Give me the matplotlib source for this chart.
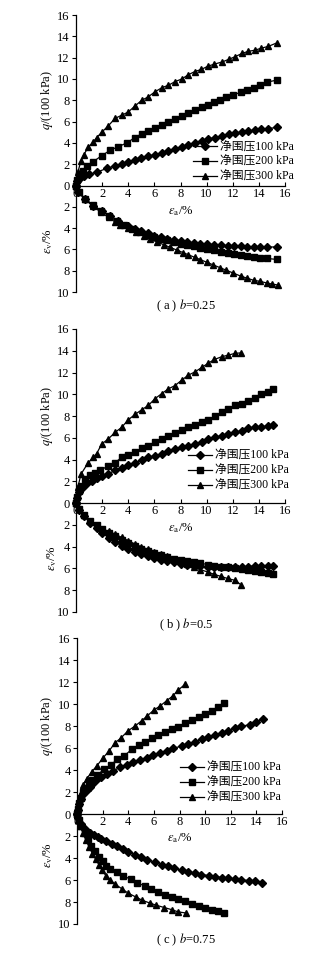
import matplotlib
matplotlib.use('Agg')
import matplotlib.pyplot as plt
from matplotlib.ticker import FuncFormatter

plt.rcParams['font.family'] = ['Liberation Serif', 'Noto Sans CJK SC']
plt.rcParams['mathtext.fontset'] = 'stix'
plt.rcParams['font.size'] = 9

labels = ['净围压100 kPa', '净围压200 kPa', '净围压300 kPa']
captions = [r'( a ) $b$=0.25', r'( b ) $b$=0.5', r'( c ) $b$=0.75']

# ---- (a) b=0.25 : axial strain / deviator stress q (100 kPa) ----
q100_a_x = [0, 0.1, 0.3, 0.6, 1.0, 1.58, 2.35, 3.0, 3.5, 4.0, 4.5, 5.0, 5.5, 6.05, 6.56, 7.07, 7.58, 8.09,
            8.6, 9.11, 9.63, 10.1, 10.65, 11.2, 11.7, 12.2, 12.7, 13.2, 13.7, 14.2, 14.7, 15.4]
q100_a_y = [0, 0.4, 0.7, 0.9, 1.05, 1.25, 1.6, 1.85, 2.0, 2.2, 2.4, 2.55, 2.73, 2.9, 3.05, 3.22, 3.4, 3.6,
            3.8, 3.95, 4.15, 4.35, 4.5, 4.65, 4.8, 4.9, 5.0, 5.1, 5.2, 5.27, 5.35, 5.45]
q200_a_x = [0, 0.08, 0.25, 0.5, 0.85, 1.33, 1.97, 2.6, 3.24, 3.9, 4.5, 5.03, 5.54, 6.05, 6.56, 7.07, 7.58,
            8.09, 8.6, 9.11, 9.63, 10.1, 10.6, 11.0, 11.5, 12.0, 12.6, 13.1, 13.6, 14.1, 14.6, 15.4]
q200_a_y = [0, 0.5, 1.0, 1.4, 1.8, 2.25, 2.8, 3.3, 3.65, 4.0, 4.5, 4.85, 5.1, 5.4, 5.66, 5.97, 6.23,
            6.51, 6.76, 7.07, 7.33, 7.55, 7.8, 8.0, 8.27, 8.5, 8.74, 8.96, 9.2, 9.43, 9.7, 9.9]
q300_a_x = [0, 0.05, 0.15, 0.38, 0.6, 0.94, 1.33, 1.58, 1.97, 2.47, 2.99, 3.5, 4.0, 4.5, 5.03, 5.5, 6.05,
            6.6, 7.06, 7.58, 8.1, 8.6, 9.1, 9.6, 10.1, 10.6, 11.2, 11.7, 12.2, 12.7, 13.2, 13.7, 14.2, 14.7, 15.4]
q300_a_y = [0, 0.6, 1.3, 2.3, 2.9, 3.6, 4.1, 4.5, 5.0, 5.6, 6.3, 6.6, 6.9, 7.45, 8.0, 8.3, 8.8,
            9.2, 9.4, 9.75, 10.0, 10.4, 10.7, 10.9, 11.2, 11.4, 11.6, 11.85, 12.1, 12.4, 12.6, 12.7, 12.9, 13.05, 13.4]
# volumetric strain (%)
ev100_a_x = [0, 0.18, 0.69, 1.33, 1.97, 2.6, 3.24, 4.0, 4.5, 5.0, 5.5, 6.0, 6.5, 7.0, 7.5, 8.0, 8.5, 9.0,
             9.5, 10.0, 10.6, 11.1, 11.6, 12.1, 12.6, 13.1, 13.6, 14.1, 14.6, 15.4]
ev100_a_y = [0, 0.63, 1.25, 1.89, 2.36, 2.83, 3.3, 3.77, 4.05, 4.3, 4.5, 4.7, 4.85, 5.0, 5.1, 5.2, 5.3, 5.4,
             5.45, 5.5, 5.55, 5.6, 5.65, 5.7, 5.72, 5.75, 5.75, 5.77, 5.77, 5.77]
ev200_a_x = [0, 0.2, 0.7, 1.3, 1.9, 2.5, 3.1, 3.7, 4.3, 4.9, 5.5, 6.0, 6.5, 7.0, 7.5, 8.0, 8.5, 9.0,
             9.5, 10.0, 10.6, 11.1, 11.6, 12.1, 12.6, 13.1, 13.6, 14.1, 14.6, 15.4]
ev200_a_y = [0, 0.6, 1.25, 1.85, 2.35, 2.85, 3.35, 3.75, 4.1, 4.4, 4.65, 4.85, 5.0, 5.15, 5.3, 5.45, 5.6, 5.72,
             5.85, 5.95, 6.1, 6.2, 6.3, 6.4, 6.5, 6.6, 6.7, 6.78, 6.85, 6.94]
ev300_a_x = [0, 0.2, 0.7, 1.3, 1.9, 2.5, 3.0, 3.4, 4.0, 4.6, 5.2, 5.7, 6.2, 6.7, 7.2, 7.7, 8.2, 8.6, 9.1,
             9.5, 10.0, 10.5, 11.0, 11.5, 12.0, 12.6, 13.1, 13.6, 14.1, 14.6, 15.0, 15.5]
ev300_a_y = [0, 0.63, 1.3, 1.95, 2.5, 3.0, 3.43, 3.7, 4.0, 4.4, 4.75, 5.05, 5.3, 5.55, 5.8, 6.05, 6.3, 6.5, 6.75,
             6.95, 7.2, 7.45, 7.7, 7.95, 8.2, 8.5, 8.7, 8.9, 9.0, 9.15, 9.25, 9.35]

# ---- (b) b=0.5 ----
q100_b_x = [0, 0.08, 0.2, 0.45, 0.8, 1.2, 1.6, 2.0, 2.47, 2.99, 3.5, 4.0, 4.52, 5.03, 5.54, 6.05, 6.56, 7.07,
            7.58, 8.09, 8.6, 9.11, 9.63, 10.1, 10.65, 11.15, 11.66, 12.2, 12.7, 13.2, 13.7, 14.2, 14.7, 15.1]
q100_b_y = [0, 0.5, 1.0, 1.4, 1.75, 2.05, 2.3, 2.5, 2.7, 3.0, 3.27, 3.52, 3.73, 3.95, 4.2, 4.35, 4.51, 4.75,
            4.97, 5.12, 5.28, 5.43, 5.65, 5.9, 6.05, 6.2, 6.35, 6.5, 6.66, 6.9, 6.97, 7.0, 7.1, 7.2]
q200_b_x = [0, 0.08, 0.2, 0.4, 0.69, 1.07, 1.45, 1.84, 2.47, 2.99, 3.5, 4.0, 4.52, 5.03, 5.54, 6.05, 6.56, 7.07,
            7.58, 8.09, 8.6, 9.11, 9.63, 10.1, 10.65, 11.15, 11.66, 12.2, 12.7, 13.2, 13.7, 14.2, 14.7, 15.1]
q200_b_y = [0, 0.6, 1.1, 1.6, 2.19, 2.56, 2.8, 3.0, 3.43, 3.73, 4.2, 4.44, 4.66, 5.06, 5.28, 5.65, 5.9, 6.2,
            6.45, 6.72, 6.97, 7.22, 7.44, 7.66, 7.97, 8.37, 8.67, 8.98, 9.13, 9.38, 9.69, 10.06, 10.2, 10.5]
q300_b_x = [0, 0.05, 0.15, 0.38, 0.94, 1.33, 1.58, 1.97, 2.47, 2.99, 3.5, 4.0, 4.52, 5.03, 5.54, 6.05, 6.56,
            7.07, 7.58, 8.09, 8.6, 9.11, 9.63, 10.1, 10.6, 11.15, 11.66, 12.2, 12.6]
q300_b_y = [0, 0.7, 1.5, 2.66, 3.73, 4.2, 4.56, 5.43, 5.9, 6.5, 6.97, 7.66, 8.15, 8.58, 8.98, 9.6, 10.06,
            10.5, 10.8, 11.3, 11.76, 12.06, 12.47, 12.84, 13.2, 13.45, 13.6, 13.77, 13.8]
ev100_b_x = [0, 0.2, 0.6, 1.1, 1.6, 2.0, 2.5, 3.0, 3.5, 4.0, 4.5, 5.0, 5.5, 6.0, 6.5, 7.0, 7.5, 8.0, 8.5,
             9.0, 9.5, 10.1, 10.6, 11.1, 11.6, 12.2, 12.7, 13.2, 13.7, 14.2, 14.7, 15.1]
ev100_b_y = [0, 0.6, 1.2, 1.8, 2.3, 2.7, 3.2, 3.6, 3.9, 4.2, 4.45, 4.67, 4.85, 5.03, 5.18, 5.33, 5.45, 5.58, 5.65,
             5.73, 5.8, 5.88, 5.88, 5.88, 5.88, 5.88, 5.85, 5.82, 5.78, 5.73, 5.73, 5.73]
ev200_b_x = [0, 0.2, 0.6, 1.1, 1.6, 2.0, 2.5, 3.0, 3.5, 4.0, 4.5, 5.0, 5.5, 6.0, 6.5, 7.0, 7.5, 8.0, 8.5,
             9.0, 9.5, 10.1, 10.6, 11.1, 11.6, 12.2, 12.7, 13.2, 13.7, 14.2, 14.7, 15.1]
ev200_b_y = [0, 0.55, 1.1, 1.6, 2.05, 2.4, 2.75, 3.0, 3.35, 3.7, 3.95, 4.2, 4.4, 4.6, 4.8, 4.97, 5.1, 5.2, 5.3,
             5.42, 5.52, 5.64, 5.73, 5.82, 5.88, 5.94, 6.05, 6.18, 6.25, 6.33, 6.4, 6.48]
ev300_b_x = [0, 0.2, 0.6, 1.1, 1.6, 2.0, 2.5, 3.0, 3.5, 4.0, 4.5, 5.0, 5.5, 6.0, 6.5, 7.0, 7.5, 8.0, 8.5,
             9.0, 9.5, 10.1, 10.6, 11.1, 11.6, 12.2, 12.6]
ev300_b_y = [0, 0.55, 1.1, 1.6, 2.0, 2.35, 2.6, 2.85, 3.15, 3.45, 3.75, 4.0, 4.25, 4.5, 4.7, 4.9, 5.1, 5.33, 5.6,
             5.85, 6.1, 6.33, 6.55, 6.73, 6.92, 7.1, 7.48]

# ---- (c) b=0.75 ----
q100_c_x = [0, 0.05, 0.15, 0.3, 0.5, 0.75, 1.0, 1.25, 1.54, 1.85, 2.32, 2.84, 3.36, 3.88, 4.4, 4.92, 5.44, 5.96,
            6.48, 7.0, 7.5, 8.18, 8.7, 9.2, 9.74, 10.25, 10.8, 11.3, 11.8, 12.3, 12.8, 13.5, 14.0, 14.55]
q100_c_y = [0, 0.4, 0.9, 1.4, 1.8, 2.2, 2.5, 2.8, 3.15, 3.39, 3.64, 3.94, 4.24, 4.45, 4.7, 4.9, 5.12, 5.36,
            5.57, 5.76, 5.97, 6.18, 6.36, 6.58, 6.79, 6.97, 7.15, 7.33, 7.58, 7.8, 8.0, 8.1, 8.4, 8.6]
q200_c_x = [0, 0.05, 0.15, 0.3, 0.5, 0.7, 0.95, 1.15, 1.59, 2.1, 2.63, 3.15, 3.67, 4.27, 4.8, 5.3, 5.83, 6.35,
            6.88, 7.4, 7.9, 8.44, 8.96, 9.5, 10.0, 10.5, 11.0, 11.5]
q200_c_y = [0, 0.5, 1.0, 1.5, 2.0, 2.4, 2.8, 3.1, 3.55, 4.06, 4.45, 4.97, 5.27, 5.88, 6.27, 6.58, 6.88, 7.18,
            7.48, 7.73, 7.94, 8.3, 8.55, 8.8, 9.1, 9.4, 9.7, 10.1]
q300_c_x = [0, 0.05, 0.15, 0.3, 0.45, 0.76, 1.15, 1.54, 2.0, 2.52, 2.97, 3.4, 4.0, 4.53, 5.05, 5.5, 6.0, 6.48,
            7.0, 7.47, 7.9, 8.44]
q300_c_y = [0, 0.6, 1.2, 1.9, 2.6, 3.2, 3.85, 4.36, 5.06, 5.76, 6.48, 6.88, 7.58, 8.0, 8.48, 8.94, 9.45, 9.82,
            10.3, 10.73, 11.27, 11.8]
ev100_c_x = [0, 0.1, 0.3, 0.5, 0.75, 1.0, 1.3, 1.6, 1.9, 2.3, 2.7, 3.1, 3.6, 4.0, 4.5, 5.0, 5.5, 6.1, 6.6,
             7.1, 7.6, 8.2, 8.7, 9.2, 9.7, 10.3, 10.8, 11.3, 11.8, 12.3, 12.8, 13.4, 13.9, 14.4]
ev100_c_y = [0, 0.4, 0.9, 1.2, 1.5, 1.75, 1.95, 2.1, 2.25, 2.45, 2.7, 2.95, 3.2, 3.45, 3.7, 3.95, 4.15, 4.4, 4.6,
             4.75, 4.95, 5.1, 5.25, 5.38, 5.5, 5.6, 5.7, 5.78, 5.85, 5.92, 5.98, 6.05, 6.12, 6.25]
ev200_c_x = [0, 0.15, 0.35, 0.6, 0.85, 1.1, 1.4, 1.7, 2.0, 2.3, 2.6, 3.1, 3.6, 4.2, 4.7, 5.3, 5.8, 6.3,
             6.9, 7.4, 7.9, 8.4, 9.0, 9.5, 10.0, 10.5, 11.0, 11.5]
ev200_c_y = [0, 0.5, 1.1, 1.7, 2.3, 2.9, 3.4, 3.9, 4.3, 4.7, 5.0, 5.3, 5.6, 5.95, 6.25, 6.55, 6.8, 7.1,
             7.35, 7.55, 7.75, 7.95, 8.15, 8.35, 8.55, 8.7, 8.85, 9.0]
ev300_c_x = [0, 0.1, 0.25, 0.45, 0.7, 0.95, 1.2, 1.45, 1.7, 1.95, 2.25, 2.6, 3.0, 3.5, 4.0, 4.6, 5.1, 5.7,
             6.2, 6.8, 7.4, 7.9, 8.5]
ev300_c_y = [0, 0.5, 1.1, 1.7, 2.4, 3.0, 3.6, 4.1, 4.6, 5.1, 5.6, 6.0, 6.4, 6.8, 7.2, 7.55, 7.85, 8.1,
             8.3, 8.5, 8.7, 8.9, 9.0]

panels = [
    [(q100_a_x, q100_a_y, ev100_a_x, ev100_a_y),
     (q200_a_x, q200_a_y, ev200_a_x, ev200_a_y),
     (q300_a_x, q300_a_y, ev300_a_x, ev300_a_y)],
    [(q100_b_x, q100_b_y, ev100_b_x, ev100_b_y),
     (q200_b_x, q200_b_y, ev200_b_x, ev200_b_y),
     (q300_b_x, q300_b_y, ev300_b_x, ev300_b_y)],
    [(q100_c_x, q100_c_y, ev100_c_x, ev100_c_y),
     (q200_c_x, q200_c_y, ev200_c_x, ev200_c_y),
     (q300_c_x, q300_c_y, ev300_c_x, ev300_c_y)],
]

# layout (figure fractions)
ax_pos = [[0.2346, 0.6958, 0.645, 0.2885],
          [0.2346, 0.3625, 0.645, 0.2948],
          [0.2377, 0.0375, 0.6327, 0.2979]]
leg_anchor = [(0.56, 0.469), (0.536, 0.498), (0.502, 0.493)]
qlab_x = [-0.14, -0.14, -0.145]
evlab = [(-0.135, -5.2), (-0.115, -5.0), (-0.14, -3.7)]
ealab_y = [-2.4, -2.3, -2.15]
cap_y = [0.681, 0.349, 0.021]

markers = ['D', 's', '^']
msizes = [3.8, 4.2, 5.0]

fig = plt.figure(figsize=(3.24, 9.6), dpi=100)

for i, series in enumerate(panels):
    ax = fig.add_axes(ax_pos[i])
    for j, (qx, qy, ex, ey) in enumerate(series):
        ax.plot(qx, qy, color='black', lw=0.9, marker=markers[j], ms=msizes[j],
                label=labels[j], clip_on=False)
        ax.plot(ex, [-v for v in ey], color='black', lw=0.9, marker=markers[j],
                ms=msizes[j], clip_on=False)

    ax.set_xlim(0, 16)
    ax.set_ylim(-10, 16)
    ax.set_xticks(range(0, 17, 2))
    ax.set_yticks(range(-10, 17, 2))
    ax.yaxis.set_major_formatter(FuncFormatter(lambda v, p: f'{abs(v):g}'))
    ax.spines['bottom'].set_position(('data', 0))
    ax.spines['top'].set_visible(False)
    ax.spines['right'].set_visible(False)
    ax.spines['left'].set_linewidth(0.9)
    ax.spines['bottom'].set_linewidth(0.9)
    ax.tick_params(axis='x', direction='in', length=3, width=0.8, pad=1.5, labelsize=9)
    ax.tick_params(axis='y', direction='out', length=3, width=0.8, pad=1.5, labelsize=9)

    ax.text(qlab_x[i], 8, r'$q$/(100 kPa)', rotation=90, ha='center', va='center',
            transform=ax.get_yaxis_transform(), fontsize=9)
    ax.text(evlab[i][0], evlab[i][1], r'$\varepsilon_\mathrm{v}$/%', rotation=90,
            ha='center', va='center', transform=ax.get_yaxis_transform(), fontsize=9)
    ax.text(8, ealab_y[i], r'$\varepsilon_\mathrm{a}$/%', ha='center', va='center', fontsize=9)

    ax.legend(loc='center left', bbox_to_anchor=leg_anchor[i], frameon=False,
              borderpad=0, borderaxespad=0, handlelength=2.0, handletextpad=0.3,
              labelspacing=0.25, fontsize=8.5)

    fig.text(0.575, cap_y[i], captions[i], ha='center', va='center', fontsize=9)

fig.savefig('out.png', dpi=100)
